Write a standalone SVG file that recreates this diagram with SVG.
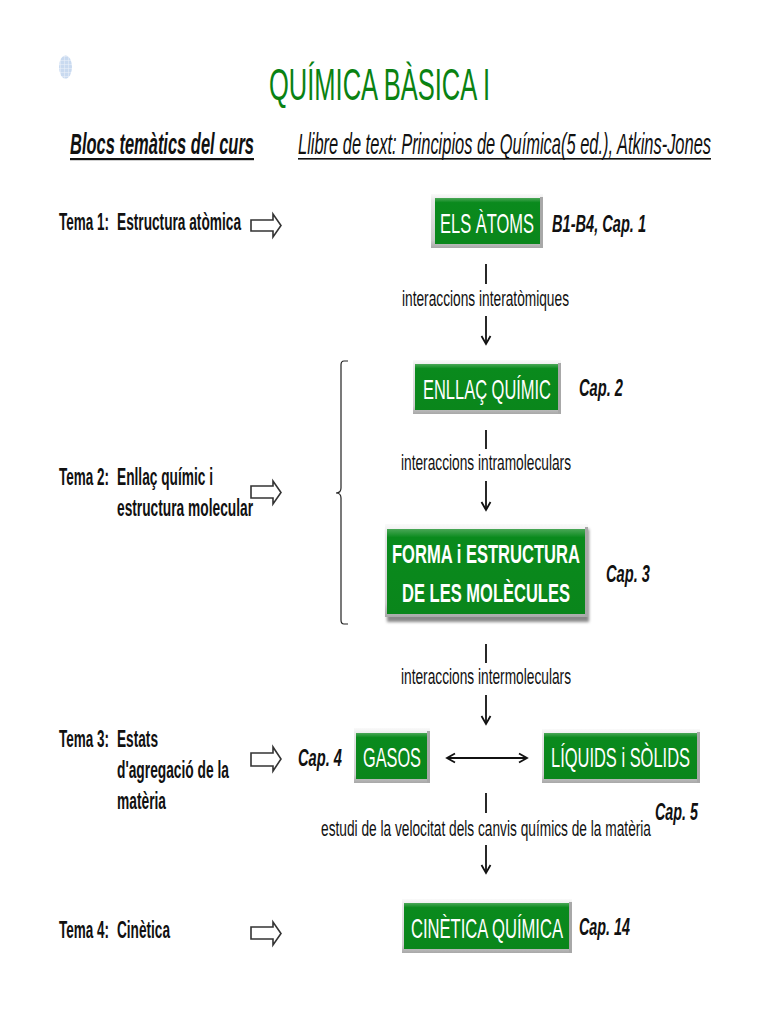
<svg xmlns="http://www.w3.org/2000/svg" width="768" height="1024" viewBox="0 0 768 1024">
<defs>
<marker id="ah" markerWidth="12" markerHeight="14" refX="9" refY="6" orient="auto-start-reverse" markerUnits="userSpaceOnUse"><path d="M1 1.500 L9 6 L1 10.500" fill="none" stroke="#111" stroke-width="1.800"/></marker>
<linearGradient id="bev" x1="0" y1="0" x2="0" y2="1"><stop offset="0" stop-color="#fafafa"/><stop offset=".12" stop-color="#e8e8e8"/><stop offset=".85" stop-color="#cccccc"/><stop offset="1" stop-color="#a8a8a8"/></linearGradient>
<linearGradient id="gr" x1="0" y1="0" x2="0" y2="1"><stop offset="0" stop-color="#4aa757"/><stop offset=".1" stop-color="#0a8a1d"/><stop offset="1" stop-color="#0a861b"/></linearGradient>
<filter id="sh" x="-10%" y="-10%" width="120%" height="130%"><feGaussianBlur stdDeviation="1.500"/></filter>
<pattern id="globe" width="4" height="4" patternUnits="userSpaceOnUse"><rect width="4" height="4" fill="#c9daf0"/><path d="M0 0H4M0 0V4" stroke="#eef3fa" stroke-width="1"/></pattern>
</defs>
<style>
text{font-family:"Liberation Sans",Arial,sans-serif;fill:#111}
.tb{font-size:13.500px;font-weight:700}
.c{font-size:14px;font-weight:700;font-style:italic}
.l{font-size:12.600px}
.h{font-size:16px;font-style:italic}
.bt{fill:#fff;font-size:16.500px}
.g{fill:url(#gr)}
.b{fill:url(#bev)}
.r{fill:#a8a8a8}
.edge{fill:none;stroke:#111;stroke-width:1.800}
.fat{fill:#fff;stroke:#333;stroke-width:1.600}
</style>
<rect width="768" height="1024" fill="#fff"/>
<g id="logo"><ellipse cx="65.500" cy="67" rx="6.500" ry="11.500" fill="url(#globe)"/></g>
<g id="title">
<text transform="matrix(1 0 0 1.750 269 100)" font-size="25.500" textLength="221" lengthAdjust="spacingAndGlyphs" style="fill:#0a8212">QUÍMICA BÀSICA I</text>
<text transform="matrix(1 0 0 1.800 70 154)" font-size="16.500" font-weight="700" font-style="italic" textLength="184" lengthAdjust="spacingAndGlyphs">Blocs temàtics del curs</text>
<rect x="70" y="158" width="184" height="2.200" fill="#111"/>
<text transform="matrix(1 0 0 1.800 298 154)" class="h" textLength="413" lengthAdjust="spacingAndGlyphs">Llibre de text: Principios de Química(5 ed.), Atkins-Jones</text>
<rect x="298" y="158" width="413" height="1.600" fill="#111"/>
</g>
<g id="tema1">
<text transform="matrix(1 0 0 1.720 59 230)" class="tb" textLength="50" lengthAdjust="spacingAndGlyphs">Tema 1:</text>
<text transform="matrix(1 0 0 1.720 117 230)" class="tb" textLength="124" lengthAdjust="spacingAndGlyphs">Estructura atòmica</text>
<path class="fat" d="M251 220H273V214L281 225.500L273 237V231H251Z"/>
</g>
<g id="tema2">
<text transform="matrix(1 0 0 1.720 59 485)" class="tb" textLength="50" lengthAdjust="spacingAndGlyphs">Tema 2:</text>
<text transform="matrix(1 0 0 1.720 117 485)" class="tb" textLength="96" lengthAdjust="spacingAndGlyphs">Enllaç químic i</text>
<text transform="matrix(1 0 0 1.720 117 516)" class="tb" textLength="136" lengthAdjust="spacingAndGlyphs">estructura molecular</text>
<path class="fat" d="M251 486H273V481L281 492.500L273 504V498H251Z"/>
<path d="M348 361H344Q341 361 341 365V488Q341 493 336 493Q341 493 341 498V620Q341 624 344 624H348" fill="none" stroke="#222" stroke-width="1.200"/>
</g>
<g id="tema3">
<text transform="matrix(1 0 0 1.720 59 747)" class="tb" textLength="50" lengthAdjust="spacingAndGlyphs">Tema 3:</text>
<text transform="matrix(1 0 0 1.720 117 747)" class="tb" textLength="41" lengthAdjust="spacingAndGlyphs">Estats</text>
<text transform="matrix(1 0 0 1.720 117 778)" class="tb" textLength="112" lengthAdjust="spacingAndGlyphs">d'agregació de la</text>
<text transform="matrix(1 0 0 1.720 117 809)" class="tb" textLength="49" lengthAdjust="spacingAndGlyphs">matèria</text>
<path class="fat" d="M251 753H273V747L281 759L273 771V766H251Z"/>
</g>
<g id="tema4">
<text transform="matrix(1 0 0 1.720 59 938)" class="tb" textLength="50" lengthAdjust="spacingAndGlyphs">Tema 4:</text>
<text transform="matrix(1 0 0 1.720 117 938)" class="tb" textLength="53" lengthAdjust="spacingAndGlyphs">Cinètica</text>
<path class="fat" d="M251 927H273V922L281 933.500L273 945V939H251Z"/>
</g>
<g id="connectors">
<path class="edge" d="M486 264V284"/>
<path class="edge" d="M486 316V344" marker-end="url(#ah)"/>
<path class="edge" d="M486 430V449"/>
<path class="edge" d="M486 481V510" marker-end="url(#ah)"/>
<path class="edge" d="M486 644V663"/>
<path class="edge" d="M486 695V724" marker-end="url(#ah)"/>
<path class="edge" d="M447 758H527" marker-start="url(#ah)" marker-end="url(#ah)"/>
<path class="edge" d="M486 793V813"/>
<path class="edge" d="M486 845V873" marker-end="url(#ah)"/>
</g>
<g id="labels">
<text transform="matrix(1 0 0 1.720 402 306)" class="l" textLength="167" lengthAdjust="spacingAndGlyphs">interaccions interatòmiques</text>
<text transform="matrix(1 0 0 1.720 401 470)" class="l" textLength="170" lengthAdjust="spacingAndGlyphs">interaccions intramoleculars</text>
<text transform="matrix(1 0 0 1.720 401 684)" class="l" textLength="170" lengthAdjust="spacingAndGlyphs">interaccions intermoleculars</text>
<text transform="matrix(1 0 0 1.720 321 836)" class="l" textLength="330" lengthAdjust="spacingAndGlyphs">estudi de la velocitat dels canvis químics de la matèria</text>
</g>
<g id="n-atoms">
<rect x="431" y="194" width="112" height="54" class="b"/><rect x="540" y="197" width="3" height="51" class="r"/><rect x="435" y="198" width="105" height="46" class="g"/>
<text transform="matrix(1 0 0 1.720 440 233)" class="bt" textLength="94" lengthAdjust="spacingAndGlyphs">ELS ÀTOMS</text>
<text transform="matrix(1 0 0 1.700 552 232)" class="c" textLength="94" lengthAdjust="spacingAndGlyphs">B1-B4, Cap. 1</text>
</g>
<g id="n-enllac">
<rect x="413" y="360" width="148" height="54" class="b"/><rect x="558" y="363" width="3" height="51" class="r"/><rect x="415" y="364" width="143" height="46" class="g"/>
<text transform="matrix(1 0 0 1.720 423 399)" class="bt" textLength="128" lengthAdjust="spacingAndGlyphs">ENLLAÇ QUÍMIC</text>
<text transform="matrix(1 0 0 1.700 579 396)" class="c" textLength="44" lengthAdjust="spacingAndGlyphs">Cap. 2</text>
</g>
<g id="n-forma">
<rect x="387" y="529" width="202" height="93" fill="#888" filter="url(#sh)"/>
<rect x="385" y="524" width="203" height="93" class="b"/><rect x="585" y="527" width="3" height="90" class="r"/><rect x="387" y="529" width="198" height="85" class="g"/>
<text transform="matrix(1 0 0 1.720 392 563)" class="bt" font-weight="700" textLength="188" lengthAdjust="spacingAndGlyphs" style="font-size:15.500px">FORMA i ESTRUCTURA</text>
<text transform="matrix(1 0 0 1.720 402 602)" class="bt" font-weight="700" textLength="168" lengthAdjust="spacingAndGlyphs" style="font-size:15.500px">DE LES MOLÈCULES</text>
<text transform="matrix(1 0 0 1.700 606 582)" class="c" textLength="44" lengthAdjust="spacingAndGlyphs">Cap. 3</text>
</g>
<g id="n-gasos">
<rect x="354" y="728" width="76" height="55" class="b"/><rect x="427" y="731" width="3" height="52" class="r"/><rect x="356" y="733" width="71" height="46" class="g"/>
<text transform="matrix(1 0 0 1.720 363 767)" class="bt" textLength="58" lengthAdjust="spacingAndGlyphs">GASOS</text>
<text transform="matrix(1 0 0 1.700 298 766)" class="c" textLength="44" lengthAdjust="spacingAndGlyphs">Cap. 4</text>
</g>
<g id="n-liquids">
<rect x="542" y="729" width="158" height="54" class="b"/><rect x="697" y="732" width="3" height="51" class="r"/><rect x="544" y="733" width="153" height="46" class="g"/>
<text transform="matrix(1 0 0 1.720 551 767)" class="bt" textLength="139" lengthAdjust="spacingAndGlyphs">LÍQUIDS i SÒLIDS</text>
<text transform="matrix(1 0 0 1.700 655 820)" class="c" textLength="43" lengthAdjust="spacingAndGlyphs">Cap. 5</text>
</g>
<g id="n-cinetica">
<rect x="402" y="899" width="170" height="54" class="b"/><rect x="569" y="902" width="3" height="51" class="r"/><rect x="404" y="903" width="165" height="46" class="g"/>
<text transform="matrix(1 0 0 1.720 411 938)" class="bt" textLength="152" lengthAdjust="spacingAndGlyphs">CINÈTICA QUÍMICA</text>
<text transform="matrix(1 0 0 1.700 579 935)" class="c" textLength="51" lengthAdjust="spacingAndGlyphs">Cap. 14</text>
</g>
</svg>
